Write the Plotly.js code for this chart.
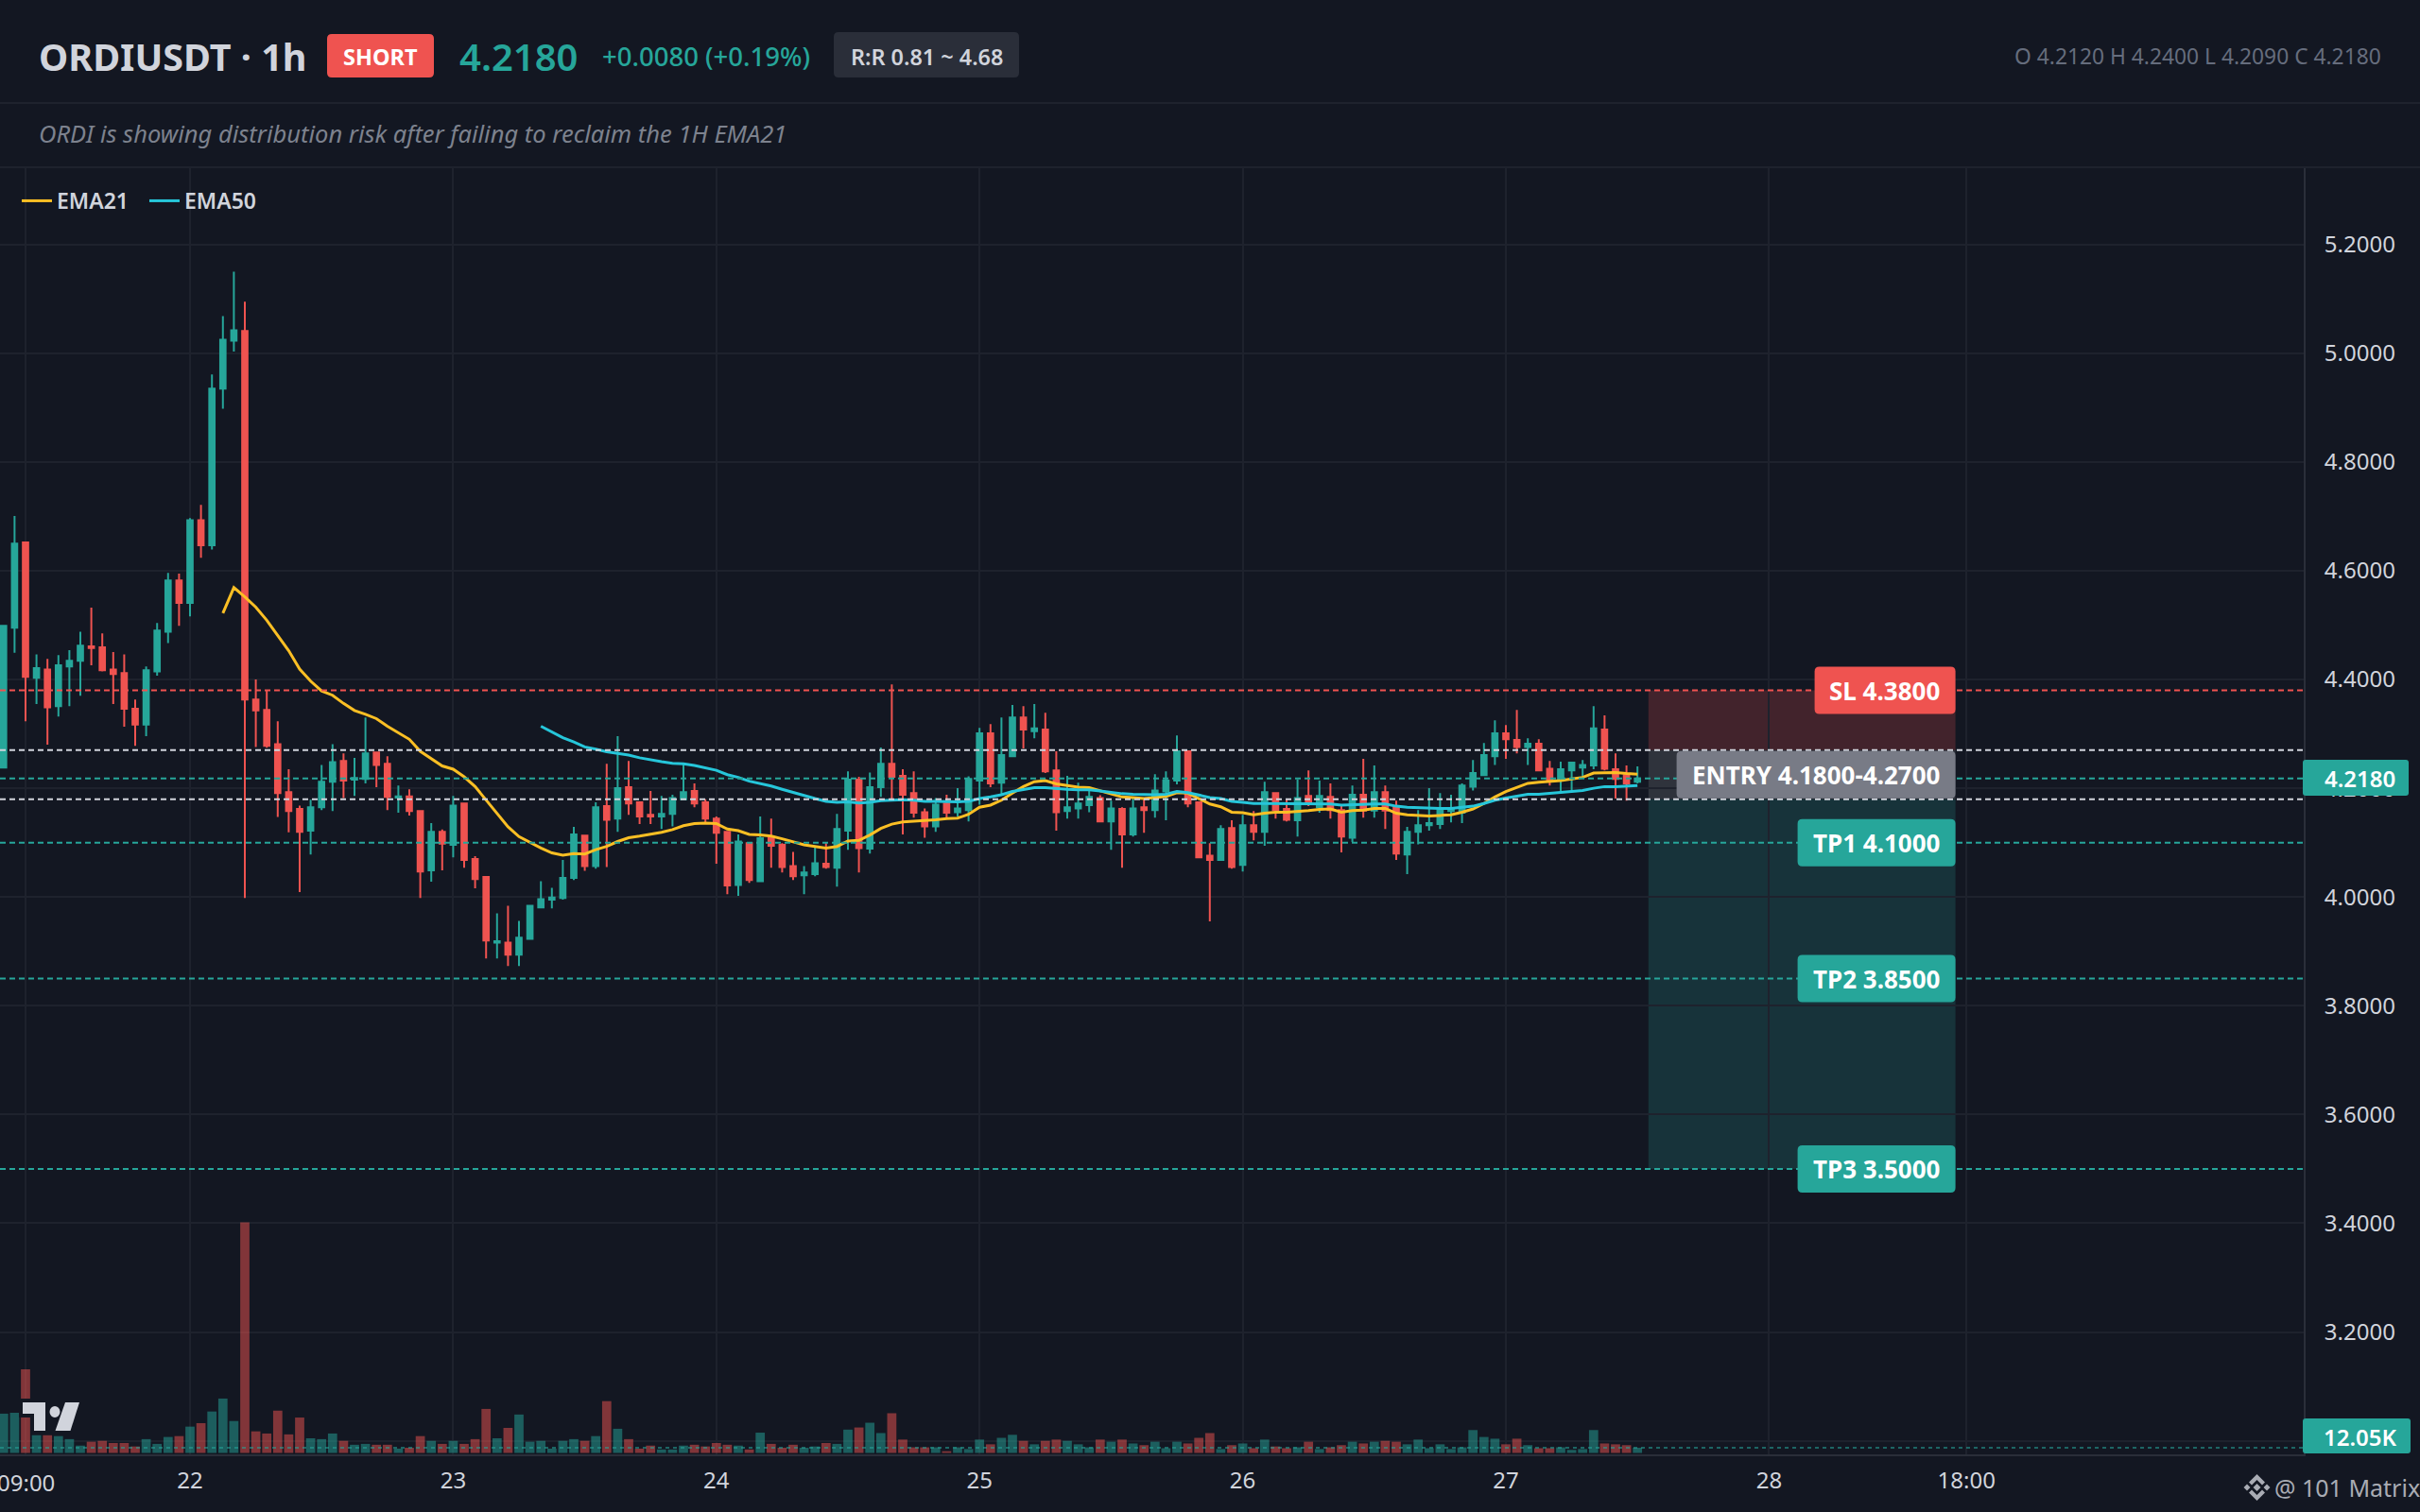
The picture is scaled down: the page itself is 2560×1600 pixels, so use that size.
<!DOCTYPE html>
<html><head><meta charset="utf-8">
<script src="https://cdn.plot.ly/plotly-3.0.1.min.js"></script>
<style>html,body{margin:0;padding:0;background:#131722}#c{width:2560px;height:1600px}</style>
</head><body><div id="c"></div>
<script>
// first candle of the series: 21st 07:00, one candle per hour
const firstHour = -17;
const highs = [
4.4985,4.7006,4.652,4.446,4.438,4.445,4.454,4.488,4.532,4.485,
4.4505,4.446,4.363,4.424,4.504,4.596,4.5945,4.697,4.721,4.961,
5.0685,5.15,5.095,4.4,4.381,4.323,4.235,4.168,4.179,4.243,
4.281,4.264,4.256,4.33,4.266,4.259,4.205,4.198,4.158,4.136,
4.124,4.186,4.172,4.075,4.037,3.97,3.984,3.956,3.984,4.029,
4.017,4.068,4.129,4.113,4.174,4.245,4.296,4.25,4.174,4.195,
4.186,4.188,4.246,4.209,4.18,4.148,4.12,4.115,4.099,4.148,
4.144,4.099,4.083,4.057,4.092,4.101,4.153,4.231,4.221,4.229,
4.275,4.391,4.235,4.231,4.163,4.182,4.188,4.2,4.222,4.311,
4.318,4.33,4.353,4.351,4.355,4.339,4.268,4.223,4.21,4.196,
4.187,4.177,4.165,4.181,4.181,4.226,4.231,4.297,4.268,4.174,
4.099,4.132,4.141,4.151,4.158,4.212,4.191,4.179,4.216,4.233,
4.214,4.209,4.169,4.205,4.254,4.242,4.205,4.177,4.129,4.16,
4.2,4.191,4.188,4.209,4.252,4.283,4.325,4.316,4.344,4.292,
4.29,4.25,4.249,4.247,4.252,4.351,4.334,4.264,4.242,4.24];
const opens = [
4.238,4.495,4.652,4.403,4.4185,4.351,4.424,4.4345,4.461,4.459,
4.4185,4.412,4.346,4.317,4.415,4.488,4.582,4.541,4.693,4.647,
4.935,5.023,5.041,4.363,4.344,4.281,4.193,4.162,4.122,4.165,
4.212,4.25,4.216,4.217,4.266,4.245,4.183,4.185,4.158,4.049,
4.12,4.096,4.172,4.07,4.037,3.916,3.916,3.894,3.923,3.981,
3.995,3.998,4.035,4.113,4.057,4.167,4.144,4.202,4.174,4.151,
4.148,4.153,4.18,4.195,4.174,4.144,4.12,4.022,4.099,4.029,
4.108,4.096,4.057,4.04,4.042,4.061,4.054,4.122,4.216,4.089,
4.202,4.245,4.223,4.191,4.156,4.13,4.172,4.156,4.16,4.214,
4.301,4.21,4.259,4.33,4.305,4.308,4.233,4.158,4.163,4.169,
4.182,4.139,4.162,4.115,4.165,4.16,4.194,4.214,4.268,4.174,
4.076,4.068,4.127,4.059,4.132,4.12,4.191,4.162,4.141,4.186,
4.165,4.184,4.16,4.109,4.188,4.159,4.193,4.166,4.078,4.12,
4.132,4.134,4.158,4.155,4.203,4.224,4.259,4.301,4.289,4.276,
4.282,4.236,4.216,4.233,4.238,4.242,4.308,4.235,4.224,4.212];
const closes = [
4.4985,4.65,4.405,4.421,4.349,4.426,4.4345,4.462,4.458,4.417,
4.41,4.346,4.317,4.417,4.49,4.582,4.541,4.693,4.647,4.935,
5.025,5.042,4.363,4.343,4.278,4.191,4.158,4.12,4.165,4.212,
4.248,4.214,4.219,4.264,4.243,4.184,4.185,4.158,4.047,4.12,
4.098,4.168,4.068,4.033,3.92,3.9186,3.894,3.925,3.984,3.996,
3.999,4.035,4.115,4.057,4.165,4.142,4.2,4.172,4.148,4.148,
4.153,4.182,4.193,4.172,4.144,4.118,4.021,4.102,4.031,4.108,
4.094,4.055,4.038,4.045,4.062,4.055,4.125,4.216,4.09,4.202,
4.245,4.221,4.188,4.155,4.13,4.17,4.155,4.163,4.217,4.301,
4.209,4.261,4.33,4.308,4.31,4.231,4.156,4.165,4.172,4.184,
4.139,4.163,4.115,4.163,4.16,4.196,4.214,4.268,4.172,4.073,
4.068,4.125,4.055,4.132,4.12,4.193,4.16,4.142,4.182,4.174,
4.186,4.16,4.111,4.188,4.159,4.193,4.159,4.08,4.12,4.132,
4.136,4.16,4.163,4.205,4.228,4.261,4.301,4.29,4.276,4.282,
4.233,4.216,4.235,4.247,4.243,4.31,4.236,4.217,4.209,4.218];
const lows = [
4.238,4.449,4.323,4.355,4.28,4.332,4.351,4.37,4.426,4.415,
4.355,4.313,4.278,4.296,4.407,4.467,4.4985,4.516,4.624,4.639,
4.898,5.003,3.998,4.276,4.2745,4.147,4.119,4.009,4.078,4.16,
4.158,4.182,4.186,4.209,4.202,4.16,4.155,4.15,3.998,4.028,
4.049,4.073,4.054,4.016,3.887,3.887,3.873,3.873,3.922,3.979,
3.979,3.995,4.031,4.048,4.052,4.055,4.12,4.151,4.134,4.134,
4.125,4.13,4.18,4.165,4.137,4.061,4.005,4.002,4.026,4.029,
4.054,4.045,4.031,4.005,4.038,4.052,4.019,4.087,4.045,4.08,
4.184,4.181,4.115,4.146,4.109,4.12,4.146,4.148,4.139,4.17,
4.202,4.189,4.257,4.273,4.292,4.228,4.122,4.144,4.144,4.156,
4.137,4.087,4.054,4.111,4.118,4.146,4.141,4.207,4.165,4.071,
3.955,4.068,4.052,4.047,4.104,4.094,4.144,4.139,4.111,4.167,
4.155,4.144,4.082,4.101,4.146,4.146,4.125,4.068,4.042,4.097,
4.122,4.125,4.137,4.136,4.196,4.224,4.243,4.254,4.264,4.243,
4.231,4.205,4.195,4.196,4.221,4.235,4.233,4.181,4.177,4.209];
// volume, thousands
const volumes = [
91,93,194,41,41,39,32,17,26,28,
23,23,15,32,21,37,39,61,69,96,
126,74,534,50,45,98,43,82,34,32,
45,28,19,21,19,19,10,12,39,28,
21,28,21,32,102,34,58,89,26,28,
10,28,32,28,39,120,56,32,10,17,
8,8,17,19,15,23,19,17,8,47,
21,12,19,12,15,23,21,54,59,70,
46,92,31,13,13,13,4,13,9,31,
20,35,42,28,20,28,31,28,20,13,
31,26,31,22,18,26,11,26,22,35,
46,9,18,22,11,31,15,11,13,26,
9,13,18,26,22,26,28,26,20,31,
11,20,9,13,53,37,33,20,33,18,
11,11,13,7,9,53,22,20,18,12.05];
const ema21Start = 3;
const ema21 = [
4.522,4.569,4.552,4.533,4.509,4.48,4.453,4.419,4.397,4.379,
4.371,4.356,4.343,4.336,4.328,4.314,4.302,4.29,4.268,4.255,
4.241,4.235,4.221,4.203,4.178,4.155,4.129,4.111,4.1,4.09,
4.081,4.077,4.08,4.079,4.087,4.093,4.102,4.109,4.112,4.115,
4.119,4.124,4.131,4.135,4.136,4.135,4.125,4.122,4.115,4.114,
4.112,4.107,4.101,4.096,4.093,4.09,4.093,4.103,4.104,4.114,
4.126,4.134,4.138,4.139,4.14,4.142,4.144,4.145,4.152,4.165,
4.169,4.178,4.191,4.203,4.212,4.214,4.208,4.205,4.202,4.201,
4.195,4.189,4.184,4.183,4.181,4.183,4.185,4.192,4.191,4.181,
4.171,4.166,4.156,4.155,4.151,4.154,4.156,4.156,4.157,4.159,
4.161,4.162,4.156,4.159,4.16,4.163,4.163,4.154,4.151,4.15,
4.149,4.15,4.151,4.156,4.162,4.172,4.184,4.194,4.201,4.209,
4.211,4.212,4.214,4.217,4.22,4.228,4.229,4.229,4.227,4.226];
const ema50Start = 32;
const ema50 = [
4.314,4.303,4.293,4.285,4.276,4.272,4.267,4.264,4.261,4.256,
4.252,4.249,4.246,4.245,4.242,4.238,4.233,4.225,4.22,4.213,
4.209,4.204,4.198,4.192,4.186,4.181,4.176,4.174,4.175,4.173,
4.174,4.177,4.178,4.179,4.178,4.176,4.176,4.175,4.175,4.176,
4.181,4.184,4.188,4.194,4.198,4.201,4.201,4.199,4.198,4.197,
4.197,4.195,4.192,4.19,4.189,4.188,4.188,4.189,4.194,4.192,
4.188,4.183,4.181,4.176,4.174,4.172,4.172,4.172,4.172,4.171,
4.172,4.172,4.171,4.169,4.17,4.17,4.171,4.171,4.167,4.165,
4.164,4.163,4.163,4.163,4.165,4.167,4.172,4.178,4.182,4.185,
4.189,4.189,4.191,4.193,4.195,4.196,4.2,4.203,4.203,4.204,4.205];
// trade plan levels
const slPrice = 4.38, entryHigh = 4.27, entryLow = 4.18, lastPrice = 4.218, lastVolume = 12.05;
const tpPrices = [4.1, 3.85, 3.5];
const tpNames = ['TP1','TP2','TP3'];
const dayTickHours = [-15,0,24,48,72,96,120,144,162];
const dayTickText = ['09:00','22','23','24','25','26','27','28','18:00'];
const planStartHour = 133, planEndHour = 161;

const UP='#26a69a', DOWN='#ef5350', BG='#131722', GRID='#1e222d', TXT='#d1d4dc';
const FONT='"Noto Sans","Open Sans",sans-serif';
const W=2560,H=1600;
const px=x=>x/W, py=y=>1-y/H;
const when=h=>new Date(Date.UTC(2026,0,22,0,0,0)+h*3600000).toISOString().slice(0,19).replace('T',' ');
const times=opens.map((_,i)=>when(firstHour+i));

const traces=[
 {type:'candlestick',x:times,open:opens,high:highs,low:lows,close:closes,xaxis:'x',yaxis:'y',
  increasing:{line:{color:UP,width:2},fillcolor:UP},decreasing:{line:{color:DOWN,width:2},fillcolor:DOWN},
  whiskerwidth:0,showlegend:false,hoverinfo:'skip'},
 {type:'scatter',mode:'lines',name:'EMA21',x:ema21.map((_,i)=>when(ema21Start+i)),y:ema21,line:{color:'#fbbf24',width:3},hoverinfo:'skip'},
 {type:'scatter',mode:'lines',name:'EMA50',x:ema50.map((_,i)=>when(ema50Start+i)),y:ema50,line:{color:'#26c6da',width:3},hoverinfo:'skip'},
 {type:'bar',x:times,y:volumes,yaxis:'y2',showlegend:false,hoverinfo:'skip',
  marker:{color:opens.map((o,i)=>closes[i]>=o?'rgba(38,166,154,0.5)':'rgba(239,83,80,0.5)'),line:{width:0}}}
];

// rounded rectangle path, in paper fractions from pixel corners
function rr(x0,y0,x1,y1,r){
 const P=(x,y)=>px(x)+','+py(y);
 return 'M'+P(x0+r,y0)+' L'+P(x1-r,y0)+' Q'+P(x1,y0)+' '+P(x1,y0+r)+' L'+P(x1,y1-r)+' Q'+P(x1,y1)+' '+P(x1-r,y1)+
  ' L'+P(x0+r,y1)+' Q'+P(x0,y1)+' '+P(x0,y1-r)+' L'+P(x0,y0+r)+' Q'+P(x0,y0)+' '+P(x0+r,y0)+' Z';
}
const box=(x0,y0,x1,y1,r,c)=>({type:'path',xref:'paper',yref:'paper',path:rr(x0,y0,x1,y1,r),fillcolor:c,line:{width:0},layer:'above'});
// box centred on a price, fixed pixel size, hung off the plan's right edge
function priceBox(price,wpx,c){
 const r=5,h=25,a=-wpx,b=0;
 const path=`M${a+r},${-h} L${b-r},${-h} Q${b},${-h} ${b},${-h+r} L${b},${h-r} Q${b},${h} ${b-r},${h} L${a+r},${h} Q${a},${h} ${a},${h-r} L${a},${-h+r} Q${a},${-h} ${a+r},${-h} Z`;
 return {type:'path',xref:'x',yref:'y',xsizemode:'pixel',ysizemode:'pixel',xanchor:when(planEndHour),yanchor:price,path,fillcolor:c,line:{width:0},layer:'above'};
}
const hline=(y,c,ref='y',dash='6px,4px')=>({type:'line',xref:'paper',x0:0,x1:px(2437),yref:ref,y0:y,y1:y,line:{color:c,width:2,dash},layer:'above'});
const zone=(y0,y1,c)=>({type:'rect',xref:'x',yref:'y',x0:when(planStartHour),x1:when(planEndHour),y0,y1,fillcolor:c,line:{width:0},layer:'below'});
const poly=(pts,c,extra)=>Object.assign({type:'path',xref:'paper',yref:'paper',path:'M'+pts.map(p=>px(p[0])+','+py(p[1])).join(' L')+' Z',fillcolor:c,line:{width:0},layer:'above'},extra||{});
const logoT=[[24,1484],[48,1484],[48,1514],[36,1514],[36,1496],[24,1496]];

const shapes=[
 // header dividers
 {type:'line',xref:'paper',yref:'paper',x0:0,x1:1,y0:py(109),y1:py(109),line:{color:GRID,width:2}},
 {type:'line',xref:'paper',yref:'paper',x0:0,x1:1,y0:py(177),y1:py(177),line:{color:GRID,width:2}},
 zone(entryHigh,slPrice,'rgba(239,83,80,0.22)'),
 zone(entryLow,entryHigh,'rgba(255,255,255,0.12)'),
 zone(tpPrices[2],entryLow,'rgba(38,166,154,0.2)'),
 hline(slPrice,DOWN),hline(entryHigh,TXT),hline(entryLow,TXT),hline(lastPrice,UP),
 ...tpPrices.map(p=>hline(p,UP)),
 hline(lastVolume,'rgba(38,166,154,0.55)','y2','4px,4px'),
 priceBox(slPrice,149,DOWN),
 priceBox((entryHigh+entryLow)/2,295,'#787b86'),
 ...tpPrices.map(p=>priceBox(p,167,UP)),
 // axis price tags
 {type:'path',xref:'paper',yref:'paper',path:rr(2436,804,2548,842,3),fillcolor:UP,line:{width:0},layer:'above'},
 box(2436,1501,2550,1538,3,UP),
 // header badges
 box(346,36,459,82,5,DOWN),
 box(882,34,1078,82,5,'#2a2e39'),
 // chart-library logo
 poly(logoT,BG,{line:{color:BG,width:8}}),
 poly(logoT,TXT),
 {type:'circle',xref:'paper',yref:'paper',x0:px(52.5),x1:px(63.5),y0:py(1488),y1:py(1500),fillcolor:TXT,line:{width:0},layer:'above'},
 poly([[69,1484],[84,1484],[74.5,1514],[58.5,1514]],TXT),
 // exchange mark
 poly([[2387.5,1570],[2391.5,1574],[2387.5,1578],[2383.5,1574]],'#a9acb4'),
 poly([[2377,1570.5],[2380.5,1574],[2377,1577.5],[2373.5,1574]],'#a9acb4'),
 poly([[2398,1570.5],[2401.5,1574],[2398,1577.5],[2394.5,1574]],'#a9acb4'),
 poly([[2387.5,1560],[2396,1568.5],[2393,1571.5],[2387.5,1566],[2382,1571.5],[2379,1568.5]],'#a9acb4'),
 poly([[2387.5,1588],[2396,1579.5],[2393,1576.5],[2387.5,1582],[2382,1576.5],[2379,1579.5]],'#a9acb4')
];

const note=(text,x,y,size,color,anchor,extra)=>Object.assign({text,xref:'paper',yref:'paper',x:px(x),y:py(y),xanchor:anchor||'left',yanchor:'middle',showarrow:false,
  font:{family:FONT,size,color},borderpad:0,borderwidth:0},extra||{});
const wfont=(size,color,weight,style)=>({family:FONT,size,color,weight,style:style||'normal'});
const planLabel=(text,price)=>({text,xref:'x',yref:'y',x:when(planEndHour),y:price,xanchor:'right',yanchor:'middle',xshift:-17,showarrow:false,borderpad:0,borderwidth:0,font:wfont(26,'#ffffff',700)});

const annotations=[
 note('ORDIUSDT · 1h',41,60,39.5,TXT,'left',{font:wfont(39.5,TXT,700)}),
 note('SHORT',402.5,60,23.5,'#fff','center',{font:wfont(23.5,'#fff',700)}),
 note('4.2180',486,60,40,UP,'left',{font:wfont(40,UP,600)}),
 note('+0.0080 (+0.19%)',637,60,27.5,UP,'left',{font:wfont(27.5,UP,500)}),
 note('R:R 0.81 ~ 4.68',980,60,23.4,TXT,'center',{font:wfont(23.4,TXT,600)}),
 note('O 4.2120 H 4.2400 L 4.2090 C 4.2180',2519,60,22.8,'#666d7d','right'),
 note('ORDI is showing distribution risk after failing to reclaim the 1H EMA21',41,141,25.5,'#7d828e','left',{font:wfont(25.5,'#7d828e',400,'italic')}),
 planLabel('SL 4.3800',slPrice),
 planLabel('ENTRY 4.1800-4.2700',(entryHigh+entryLow)/2),
 ...tpPrices.map((p,i)=>planLabel(tpNames[i]+' '+p.toFixed(4),p)),
 note('4.2180',2496,823,24,'#fff','center',{font:wfont(24,'#fff',600)}),
 note('12.05K',2497,1520,24,'#fff','center',{font:wfont(24,'#fff',600)}),
 note('@ 101 Matrix',2406,1574,25,'#a9acb4','left'),
 // the first time label runs off the page's left edge
 {text:dayTickText[0],xref:'x',yref:'paper',x:when(dayTickHours[0]),y:py(1568),xanchor:'center',yanchor:'middle',showarrow:false,borderpad:0,borderwidth:0,font:{family:FONT,size:24,color:TXT}}
];

const layout={
 width:W,height:H,margin:{l:0,r:0,t:0,b:0,pad:0},paper_bgcolor:BG,plot_bgcolor:BG,
 font:{family:FONT,color:TXT,size:24},bargap:0.16,
 xaxis:{type:'date',domain:[0,2437/W],anchor:'y',range:['2026-01-21 06:40:20','2026-01-30 00:45:36'],
  rangeslider:{visible:false},tickmode:'array',tickvals:dayTickHours.map(when),ticktext:['',...dayTickText.slice(1)],
  showgrid:true,gridcolor:GRID,gridwidth:2,zeroline:false,showline:true,linecolor:'#2a2e39',linewidth:2,
  ticks:'outside',ticklen:5,tickcolor:BG,tickwidth:0,tickfont:{family:FONT,size:24,color:TXT},fixedrange:true},
 yaxis:{domain:[61/H,1-177/H],anchor:'x',side:'right',range:[2.975,5.342],dtick:0.2,tick0:3,tickformat:'.4f',
  showgrid:true,gridcolor:GRID,gridwidth:2,zeroline:false,showline:true,linecolor:'#2a2e39',linewidth:2,
  ticks:'outside',ticklen:15,tickcolor:BG,tickwidth:0,tickfont:{family:FONT,size:24,color:TXT},fixedrange:true},
 yaxis2:{domain:[61/H,1-177/H],overlaying:'y',side:'right',anchor:'x',range:[-3.3,2979],visible:false,showgrid:false,zeroline:false,fixedrange:true},
 legend:{orientation:'h',x:px(18),y:py(191),xanchor:'left',yanchor:'top',bgcolor:'rgba(0,0,0,0)',borderwidth:0,
  font:{family:FONT,size:23,color:TXT,weight:600},itemwidth:32,entrywidth:88,entrywidthmode:'pixels',traceorder:'normal'},
 shapes,annotations,hovermode:false,dragmode:false
};
Plotly.newPlot('c',traces,layout,{displayModeBar:false,responsive:false,staticPlot:true});
</script></body></html>
